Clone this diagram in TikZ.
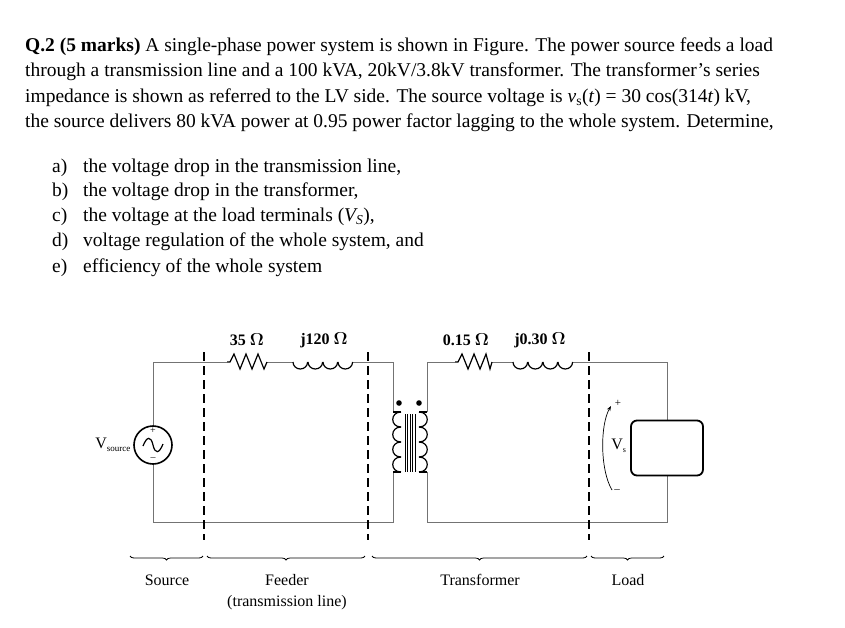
\documentclass[tikz,border=0pt]{standalone}
\usepackage{fontspec}
\setmainfont{Liberation Serif}
\usepackage{amsmath,bm}
\usetikzlibrary{decorations.pathreplacing,decorations.pathmorphing,arrows.meta}
\begin{document}
\begin{tikzpicture}[x=1pt,y=-1pt,
  body/.style={anchor=west,inner sep=0,font=\fontsize{19.5}{22}\selectfont},
  wire/.style={draw=black!55,line width=0.8},
  sep/.style={line width=2.2,dash pattern=on 9pt off 5pt},
  lbl/.style={font=\fontsize{16}{18}\selectfont\bfseries,inner sep=0},
  captxt/.style={font=\fontsize{16}{18}\selectfont,inner sep=0},
  brace/.style={decorate,decoration={brace,amplitude=4pt,mirror},line width=0.8}]
\useasboundingbox (0,0) rectangle (845,627);
% text
\node[body] (l1) at (25,47) {\textbf{Q.2 (5 marks)} A single-phase power system is shown in Figure. The power source feeds a load};
\node[body] (l2) at (25,72) {through a transmission line and a 100 kVA, 20kV/3.8kV transformer. The transformer’s series};
\node[body] (l3) at (25,98) {impedance is shown as referred to the LV side. The source voltage is \textit{v}\textsubscript{s}(\textit{t}) = 30 cos(314\textit{t}) kV,};
\node[body] (l4) at (25,123) {the source delivers 80 kVA power at 0.95 power factor lagging to the whole system. Determine,};
\foreach \y/\l/\t [count=\i] in {168/a)/{the voltage drop in the transmission line,},192/b)/{the voltage drop in the transformer,},217/c)/{the voltage at the load terminals (\textit{V\textsubscript{S}}),},242/d)/{voltage regulation of the whole system, and},268/e)/{efficiency of the whole system}}{
  \node[body] (m\i) at (52,\y) {\l};
  \node[body] (t\i) at (83,\y) {\t};
}
% circuit wires
\draw[wire] (153,426) -- (153,362) -- (227,362);
\draw[wire] (267,362) -- (293,362);
\draw[wire] (352,362) -- (393,362) -- (393,412);
\draw[wire] (393,472) -- (393,522) -- (153,522) -- (153,464);
\draw[wire] (427,412) -- (427,362) -- (455,362);
\draw[wire] (492,362) -- (513,362);
\draw[wire] (572,362) -- (667,362) -- (667,420);
\draw[wire] (667,475) -- (667,522) -- (427,522) -- (427,472);
% resistors
\draw[line width=1.2] (227,362) -- (230,362) -- (234,354) -- (240,369) -- (246,354) -- (252,369) -- (258,354) -- (264,369) -- (267,362);
\draw[line width=1.2] (455,362) -- (458,362) -- (462,354) -- (468,369) -- (474,354) -- (480,369) -- (486,354) -- (490,369) -- (492,362);
% inductors
\foreach \x in {293,308,323,338}{\draw[line width=1.2] (\x,362) arc (180:0:7.3 and 7);}
\foreach \x in {513,528,543,558}{\draw[line width=1.2] (\x,362) arc (180:0:7.3 and 7);}
% source
\node[circle,draw,line width=1.6,minimum size=38,inner sep=0] (src) at (153,445) {};
\draw[line width=1.2] (143,446) .. controls (147,436) and (151,436) .. (153,445) .. controls (155,454) and (159,454) .. (163,444);
\node[font=\fontsize{10}{10}\selectfont,inner sep=0] (sp) at (153,431) {+};
\node[font=\fontsize{10}{10}\selectfont,inner sep=0] (sm) at (153,459) {--};
\node[captxt,anchor=east] (vsrc) at (131,445) {V\textsubscript{\fontsize{9}{9}\selectfont source}};
% transformer
\draw[line width=1.2] (393,412) -- (401,412);
\draw[line width=1.2] (393,472) -- (401,472);
\draw[line width=1.2] (427,412) -- (419,412);
\draw[line width=1.2] (427,472) -- (419,472);
\foreach \i in {0,1,2,3}{
  \draw[line width=1.2] (401,412+15*\i) .. controls (390,412+15*\i) and (390,427+15*\i) .. (401,427+15*\i);
  \draw[line width=1.2] (419,412+15*\i) .. controls (430,412+15*\i) and (430,427+15*\i) .. (419,427+15*\i);
}
\foreach \x in {405,407.5,410,412.5,415}{\draw[line width=0.9] (\x,414) -- (\x,472);}
\fill (399,403) circle (2.8);
\fill (419,403) circle (2.8);
% separators
\foreach \x in {204,368,589}{\draw[sep] (\x,352) -- (\x,540);}
% load
\node[draw,line width=1.8,rounded corners=6,minimum width=72,minimum height=55,fill=white] (load) at (667,448) {};
% Vs arrow
\draw[-{Stealth[length=5pt]},line width=0.7] (612,490) .. controls (600,470) and (600,425) .. (611,406);
\node[font=\fontsize{11}{11}\selectfont,inner sep=0] (vp) at (618,403) {+};
\node[font=\fontsize{11}{11}\selectfont,inner sep=0] (vm) at (617,491) {--};
\node[captxt] (vs) at (619,446) {V\textsubscript{\fontsize{8}{8}\selectfont s}};
% labels
\node[lbl] (r1) at (247,340) {35 $\bm{\Omega}$};
\node[lbl] (x1) at (324,340) {j120 $\bm{\Omega}$};
\node[lbl] (r2) at (466,340) {0.15 $\bm{\Omega}$};
\node[lbl] (x2) at (540,340) {j0.30 $\bm{\Omega}$};
% braces
\draw[brace] (130,556) -- (203,556);
\draw[brace] (207,556) -- (365,556);
\draw[brace] (372,556) -- (587,556);
\draw[brace] (591,556) -- (664,556);
\node[captxt] (bs) at (167,580) {Source};
\node[captxt] (bf) at (287,580) {Feeder};
\node[captxt] (bt) at (287,603) {(transmission line)};
\node[captxt] (bx) at (480,580) {Transformer};
\node[captxt] (bl) at (628,580) {Load};
\end{tikzpicture}
\end{document}
